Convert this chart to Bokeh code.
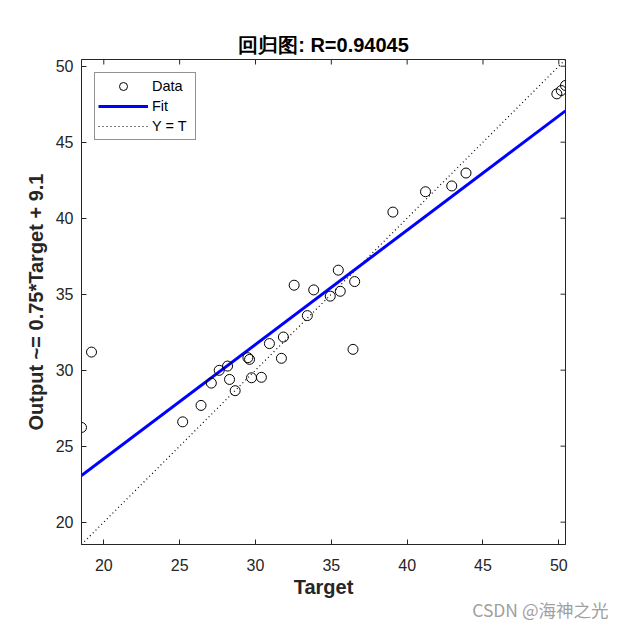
from bokeh.plotting import figure
from bokeh.models import Range1d, FixedTicker, Legend, LegendItem, Title
from bokeh.embed import file_html
from bokeh.resources import INLINE

# ---- data ----
targets = [18.53, 19.19, 25.20, 26.41, 27.09, 27.61, 28.16, 28.29, 28.66, 29.50,
           29.61, 29.74, 30.39, 30.92, 31.71, 31.84, 32.55, 33.42, 33.84, 34.93,
           35.46, 35.59, 36.43, 36.54, 39.06, 41.21, 42.94, 43.88, 49.87, 50.16, 50.44]
outputs = [26.23, 31.19, 26.60, 27.68, 29.15, 29.99, 30.27, 29.39, 28.65, 30.82,
           30.71, 29.50, 29.53, 31.75, 30.78, 32.18, 35.59, 33.59, 35.28, 34.87,
           36.58, 35.19, 31.37, 35.83, 40.40, 41.74, 42.12, 42.97, 48.18, 48.40, 48.73]
fit_slope = 0.752
fit_intercept = 9.13
x_ticks = [20, 25, 30, 35, 40, 45, 50]
y_ticks = [20, 25, 30, 35, 40, 45, 50]
title_text = "回归图: R=0.94045"
x_label = "Target"
y_label = "Output ~= 0.75*Target + 9.1"
legend_labels = ["Data", "Fit", "Y = T"]
watermark = "CSDN @海神之光"

lo = min(min(targets), min(outputs))
hi = max(max(targets), max(outputs))
line_x = [lo, hi]
fit_y = [fit_slope * v + fit_intercept for v in line_x]
ident_y = list(line_x)

AX = "#262626"
FONT = "Liberation Sans"

p = figure(width=617, height=625, output_backend="svg", toolbar_location=None,
           x_range=Range1d(lo, hi), y_range=Range1d(lo, hi),
           min_border_left=81, min_border_right=52, min_border_top=59, min_border_bottom=81,
           background_fill_color="white", border_fill_color="white")
p.outline_line_color = AX
p.outline_line_width = 1
p.grid.visible = False

p.title.text = title_text
p.title.align = "center"
p.title.text_font = FONT
p.title.text_font_size = "20px"
p.title.text_font_style = "bold"
p.title.text_color = "black"
p.title.standoff = 7

xa = p.xaxis[0]
ya = p.yaxis[0]
for ax, ticks in ((xa, x_ticks), (ya, y_ticks)):
    ax.ticker = FixedTicker(ticks=ticks)
    ax.major_tick_in = 5
    ax.major_tick_out = 0
    ax.minor_tick_in = 0
    ax.minor_tick_out = 0
    ax.axis_line_color = AX
    ax.major_tick_line_color = AX
    ax.major_label_text_font = FONT
    ax.major_label_text_color = AX
    ax.major_label_text_font_size = "16px"
    ax.axis_label_text_font = FONT
    ax.axis_label_text_font_size = "20px"
    ax.axis_label_text_font_style = "bold"
    ax.axis_label_text_color = AX
xa.major_label_standoff = 14
ya.major_label_standoff = 8
xa.axis_label = x_label
ya.axis_label = y_label
xa.axis_label_standoff = 2
ya.axis_label_standoff = 6

# inward tick marks on the top and right edges (half of each dash is clipped by the frame)
p.scatter(x_ticks, [hi] * len(x_ticks), marker="dash", angle=1.5707963, size=10,
          line_color=AX, line_width=1)
p.scatter([hi] * len(y_ticks), y_ticks, marker="dash", size=10,
          line_color=AX, line_width=1)

r_id = p.line(line_x, ident_y, line_color="black", line_width=1.2, line_dash="1 3")
r_fit = p.line(line_x, fit_y, line_color="#0000ff", line_width=3)
r_pts = p.scatter(targets, outputs, marker="circle", size=10, fill_color=None,
                  line_color="black", line_width=1)

legend = Legend(items=[LegendItem(label=legend_labels[0], renderers=[r_pts]),
                       LegendItem(label=legend_labels[1], renderers=[r_fit]),
                       LegendItem(label=legend_labels[2], renderers=[r_id])],
                location="top_left", margin=13, padding=3, spacing=0,
                glyph_width=50, glyph_height=20, label_height=20, label_width=40,
                label_standoff=4,
                label_text_font=FONT, label_text_font_size="14.5px",
                label_text_color="black", border_line_color=AX, border_line_width=1,
                background_fill_color="white", background_fill_alpha=1)
p.add_layout(legend)

wm = Title(text=watermark, align="right", offset=-43, standoff=-11,
           text_font="Noto Sans CJK SC", text_font_size="17.5px",
           text_font_style="normal", text_color="#a0a0a0")
p.add_layout(wm, "below")

open("out.html", "w").write(file_html(p, INLINE))
